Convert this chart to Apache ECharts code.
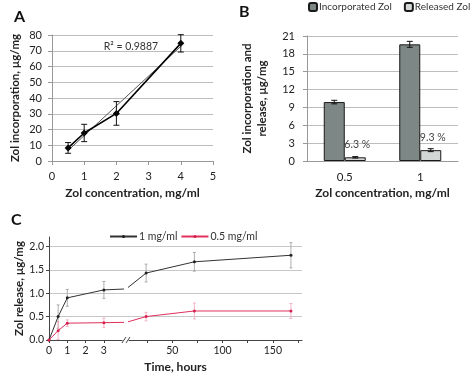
<!DOCTYPE html>
<html><head><meta charset="utf-8">
<script src="https://cdn.jsdelivr.net/npm/echarts@6/dist/echarts.min.js"></script>
<style>html,body{margin:0;padding:0;background:#fff}#c{width:474px;height:379px}</style>
</head><body><div id="c"></div>
<script>
// ---- Panel A ----
const aConc = [0.5, 1, 2, 4];
const aIncorp = [8.3, 17.8, 30.2, 74.7];
const aErr = [3.4, 5.5, 7.5, 5.5];
const aTrendX = [0.5, 4];
const aTrendY = [6.7, 72.8];
const aR2 = 'R² = 0.9887';
// ---- Panel B ----
const bCats = ['0.5', '1'];
const bIncorp = [9.9, 19.6];
const bIncorpErr = [0.3, 0.5];
const bRel = [0.62, 1.82];
const bRelErr = [0.12, 0.25];
const bPct = ['6.3 %', '9.3 %'];
// ---- Panel C ----
const cTime = [0, 0.5, 1, 3, 24, 72, 168];
const c1 = [0, 0.5, 0.9, 1.07, 1.43, 1.67, 1.81];
const c1Err = [0, 0.25, 0.18, 0.18, 0.19, 0.2, 0.27];
const c05 = [0, 0.2, 0.36, 0.37, 0.5, 0.62, 0.62];
const c05Err = [0, 0.19, 0.07, 0.1, 0.09, 0.17, 0.16];
const cLeftTicks = [0, 1, 2, 3];
const cRightTicks = [50, 100, 150];
const cRightMinor = [25, 50, 75, 100, 125, 150, 175];

const F = 'Lato, "Open Sans", sans-serif';
const TXT = '#222';

function errBars(cap, color, width, offset) {
  return function (params, api) {
    const x = api.value(0), lo = api.value(1), hi = api.value(2);
    const p1 = api.coord([x, lo]), p2 = api.coord([x, hi]);
    const dx = offset ? offset[api.value(3)] : 0;
    const X = p1[0] + dx;
    const st = { stroke: color, lineWidth: width };
    return { type: 'group', children: [
      { type: 'line', shape: { x1: X, y1: p1[1], x2: X, y2: p2[1] }, style: st },
      { type: 'line', shape: { x1: X - cap, y1: p1[1], x2: X + cap, y2: p1[1] }, style: st },
      { type: 'line', shape: { x1: X - cap, y1: p2[1], x2: X + cap, y2: p2[1] }, style: st }
    ]};
  };
}
const pairs = (xs, ys) => xs.map((x, i) => [x, ys[i]]);
const errData = (xs, ys, es, tag) => xs.map((x, i) => [x, ys[i] - es[i], ys[i] + es[i], tag || 0]);
const inRange = (d, lo, hi) => d.filter(v => v[0] >= lo && v[0] <= hi);

const BW = 21;
const cLeftMax = 4, cRightMin = 7, cRightMax = 179;

const option = {
  animation: false,
  textStyle: { fontFamily: F },
  title: [
    { text: 'A', left: 9, top: 4, textStyle: { fontFamily: F, fontSize: 16, fontWeight: 'bold', color: '#111' } },
    { text: 'B', left: 234, top: -1, textStyle: { fontFamily: F, fontSize: 16, fontWeight: 'bold', color: '#111' } },
    { text: 'C', left: 6, top: 207, textStyle: { fontFamily: F, fontSize: 16, fontWeight: 'bold', color: '#111' } }
  ],
  legend: [
    { data: ['Incorporated Zol', 'Released Zol'], orient: 'horizontal', left: 303, top: -3, width: 200,
      itemWidth: 8, itemHeight: 8, itemGap: 12, padding: [5, 0, 5, 5],
      textStyle: { fontFamily: F, fontSize: 10, color: '#333', padding: [0, 0, 0, -3] } },
    { data: ['1 mg/ml', '0.5 mg/ml'], orient: 'horizontal', left: 104, top: 226, width: 250,
      itemWidth: 27, itemHeight: 4, itemGap: 3,
      textStyle: { fontFamily: F, fontSize: 10.5, color: '#333', padding: [0, 0, 0, -3] } }
  ],
  grid: [
    { left: 52, top: 35, width: 161, height: 126 },
    { left: 307, top: 36, width: 151, height: 125 },
    { left: 49, top: 237, width: 253, height: 103 },
    { left: 49, top: 237, width: 73.2, height: 103 },
    { left: 129, top: 237, width: 173, height: 103 }
  ],
  xAxis: [
    { gridIndex: 0, type: 'value', min: 0, max: 5, interval: 1,
      name: 'Zol concentration, mg/ml', nameLocation: 'middle', nameGap: 26,
      nameTextStyle: { fontFamily: F, fontSize: 12, fontWeight: 'bold', color: TXT },
      axisLine: { lineStyle: { color: '#999' } }, axisTick: { length: 4, lineStyle: { color: '#999' } },
      axisLabel: { fontSize: 11, color: TXT, margin: 10 }, splitLine: { show: false } },
    { gridIndex: 1, type: 'category', data: bCats,
      name: 'Zol concentration, mg/ml', nameLocation: 'middle', nameGap: 26,
      nameTextStyle: { fontFamily: F, fontSize: 12, fontWeight: 'bold', color: TXT },
      axisLine: { lineStyle: { color: '#999' } }, axisTick: { length: 4, lineStyle: { color: '#999' } },
      axisLabel: { fontSize: 11.5, color: TXT, margin: 10 } },
    { gridIndex: 2, type: 'value', min: 0, max: 1,
      name: 'Time, hours', nameLocation: 'middle', nameGap: 21,
      nameTextStyle: { fontFamily: F, fontSize: 12, fontWeight: 'bold', color: TXT },
      axisLine: { show: false }, axisTick: { show: false }, axisLabel: { show: false }, splitLine: { show: false } },
    { gridIndex: 3, type: 'value', min: 0, max: cLeftMax,
      axisLine: { lineStyle: { color: '#444' } },
      axisTick: { customValues: cLeftTicks, length: 3, lineStyle: { color: '#444' } },
      axisLabel: { customValues: cLeftTicks, fontSize: 10.5, color: TXT, margin: 5 }, splitLine: { show: false } },
    { gridIndex: 4, type: 'value', min: cRightMin, max: cRightMax,
      axisLine: { lineStyle: { color: '#444' } },
      axisTick: { customValues: cRightMinor, length: 3, lineStyle: { color: '#444' } },
      axisLabel: { customValues: cRightTicks, fontSize: 10.5, color: TXT, margin: 5 }, splitLine: { show: false } }
  ],
  yAxis: [
    { gridIndex: 0, type: 'value', min: 0, max: 80, interval: 10,
      name: 'Zol incorporation, µg/mg', nameLocation: 'middle', nameGap: 31,
      nameTextStyle: { fontFamily: F, fontSize: 11.5, fontWeight: 'bold', color: TXT },
      axisLine: { show: true, lineStyle: { color: '#999' } }, axisTick: { show: true, length: 4, lineStyle: { color: '#999' } },
      axisLabel: { fontSize: 11, color: TXT, margin: 10 },
      splitLine: { lineStyle: { color: '#bdbdbd' } } },
    { gridIndex: 1, type: 'value', min: 0, max: 21, interval: 3,
      name: 'Zol incorporation and\nrelease, µg/mg', nameLocation: 'middle', nameGap: 37,
      nameTextStyle: { fontFamily: F, fontSize: 11.5, fontWeight: 'bold', color: TXT, lineHeight: 15 },
      axisLine: { show: true, lineStyle: { color: '#999' } }, axisTick: { show: true, length: 4, lineStyle: { color: '#999' } },
      axisLabel: { fontSize: 11, color: TXT, margin: 12 },
      splitLine: { lineStyle: { color: '#bdbdbd' } } },
    { gridIndex: 2, type: 'value', min: 0, max: 2.2, interval: 0.5,
      axisLine: { show: false }, axisTick: { show: false }, axisLabel: { show: false },
      splitLine: { showMinLine: false, showMaxLine: false, lineStyle: { color: '#c8c8c8' } } },
    { gridIndex: 3, type: 'value', min: 0, max: 2.2, interval: 0.5,
      name: 'Zol release, µg/mg', nameLocation: 'middle', nameGap: 24,
      nameTextStyle: { fontFamily: F, fontSize: 11.5, fontWeight: 'bold', color: TXT },
      axisLine: { show: true, lineStyle: { color: '#444' } }, axisTick: { show: true, length: 3, lineStyle: { color: '#444' } },
      axisLabel: { fontSize: 10.5, color: TXT, margin: 5, showMaxLabel: false, formatter: v => v.toFixed(1) },
      splitLine: { show: false } },
    { gridIndex: 4, type: 'value', min: 0, max: 2.2, show: false }
  ],
  series: [
    // Panel A
    { type: 'line', name: 'trend', xAxisIndex: 0, yAxisIndex: 0, data: pairs(aTrendX, aTrendY),
      symbol: 'none', lineStyle: { color: '#555', width: 1 }, z: 3,
      markPoint: { symbol: 'rect', symbolSize: 1, itemStyle: { color: 'transparent' },
        data: [{ coord: [2.45, 72.5], label: { show: true, formatter: aR2, fontFamily: F, fontSize: 10.5, color: '#333' } }] } },
    { type: 'line', name: 'A', xAxisIndex: 0, yAxisIndex: 0, data: pairs(aConc, aIncorp),
      symbol: 'diamond', symbolSize: 7, itemStyle: { color: '#000' }, lineStyle: { color: '#000', width: 1.6 }, z: 4 },
    { type: 'custom', xAxisIndex: 0, yAxisIndex: 0, data: errData(aConc, aIncorp, aErr),
      renderItem: errBars(3, '#111', 1), z: 5 },
    // Panel B
    { type: 'bar', name: 'Incorporated Zol', xAxisIndex: 1, yAxisIndex: 1, data: bIncorp, barWidth: BW, barGap: '0%',
      itemStyle: { color: '#7d8785', borderColor: '#1a1a1a', borderWidth: 1 } },
    { type: 'bar', name: 'Released Zol', xAxisIndex: 1, yAxisIndex: 1, data: bRel, barWidth: BW, barGap: '0%',
      itemStyle: { color: '#d3d7d5', borderColor: '#1a1a1a', borderWidth: 1 },
      label: { show: true, position: 'top', distance: 7, offset: [2, 0], formatter: p => bPct[p.dataIndex],
        fontFamily: F, fontSize: 10.5, color: '#444' } },
    { type: 'custom', xAxisIndex: 1, yAxisIndex: 1,
      data: errData(bCats.map((c, i) => i), bIncorp, bIncorpErr, 0).concat(errData(bCats.map((c, i) => i), bRel, bRelErr, 1)),
      renderItem: errBars(3, '#111', 1, [-BW / 2, BW / 2]), z: 5 },
    // Panel C left segment
    { type: 'line', name: '1 mg/ml', xAxisIndex: 3, yAxisIndex: 3, data: pairs(cTime, c1), clip: true,
      symbol: 'circle', symbolSize: 3, itemStyle: { color: '#222' }, lineStyle: { color: '#333', width: 1 } },
    { type: 'line', name: '0.5 mg/ml', xAxisIndex: 3, yAxisIndex: 3, data: pairs(cTime, c05), clip: true,
      symbol: 'circle', symbolSize: 3, itemStyle: { color: '#d8204f' }, lineStyle: { color: '#e0305c', width: 1 } },
    { type: 'custom', xAxisIndex: 3, yAxisIndex: 3, data: inRange(errData(cTime, c1, c1Err), 0.1, cLeftMax),
      renderItem: errBars(1.5, '#9a9a9a', 0.8), z: 1 },
    { type: 'custom', xAxisIndex: 3, yAxisIndex: 3, data: inRange(errData(cTime, c05, c05Err), 0.1, cLeftMax),
      renderItem: errBars(1.5, '#f0a2b8', 0.8), z: 1 },
    // Panel C right segment
    { type: 'line', name: '1 mg/ml', xAxisIndex: 4, yAxisIndex: 4, data: pairs(cTime, c1), clip: true,
      symbol: 'circle', symbolSize: 3, itemStyle: { color: '#222' }, lineStyle: { color: '#333', width: 1 } },
    { type: 'line', name: '0.5 mg/ml', xAxisIndex: 4, yAxisIndex: 4, data: pairs(cTime, c05), clip: true,
      symbol: 'circle', symbolSize: 3, itemStyle: { color: '#d8204f' }, lineStyle: { color: '#e0305c', width: 1 } },
    { type: 'custom', xAxisIndex: 4, yAxisIndex: 4, data: inRange(errData(cTime, c1, c1Err), cRightMin, cRightMax),
      renderItem: errBars(1.5, '#9a9a9a', 0.8), z: 1 },
    { type: 'custom', xAxisIndex: 4, yAxisIndex: 4, data: inRange(errData(cTime, c05, c05Err), cRightMin, cRightMax),
      renderItem: errBars(1.5, '#f0a2b8', 0.8), z: 1 }
  ],
  graphic: [
    { type: 'line', shape: { x1: 122, y1: 343, x2: 126, y2: 337 }, style: { stroke: '#444', lineWidth: 1 } },
    { type: 'line', shape: { x1: 126, y1: 343, x2: 130, y2: 337 }, style: { stroke: '#444', lineWidth: 1 } }
  ]
};
const chart = echarts.init(document.getElementById('c'), null, { renderer: 'canvas' });
chart.setOption(option);
</script></body></html>
